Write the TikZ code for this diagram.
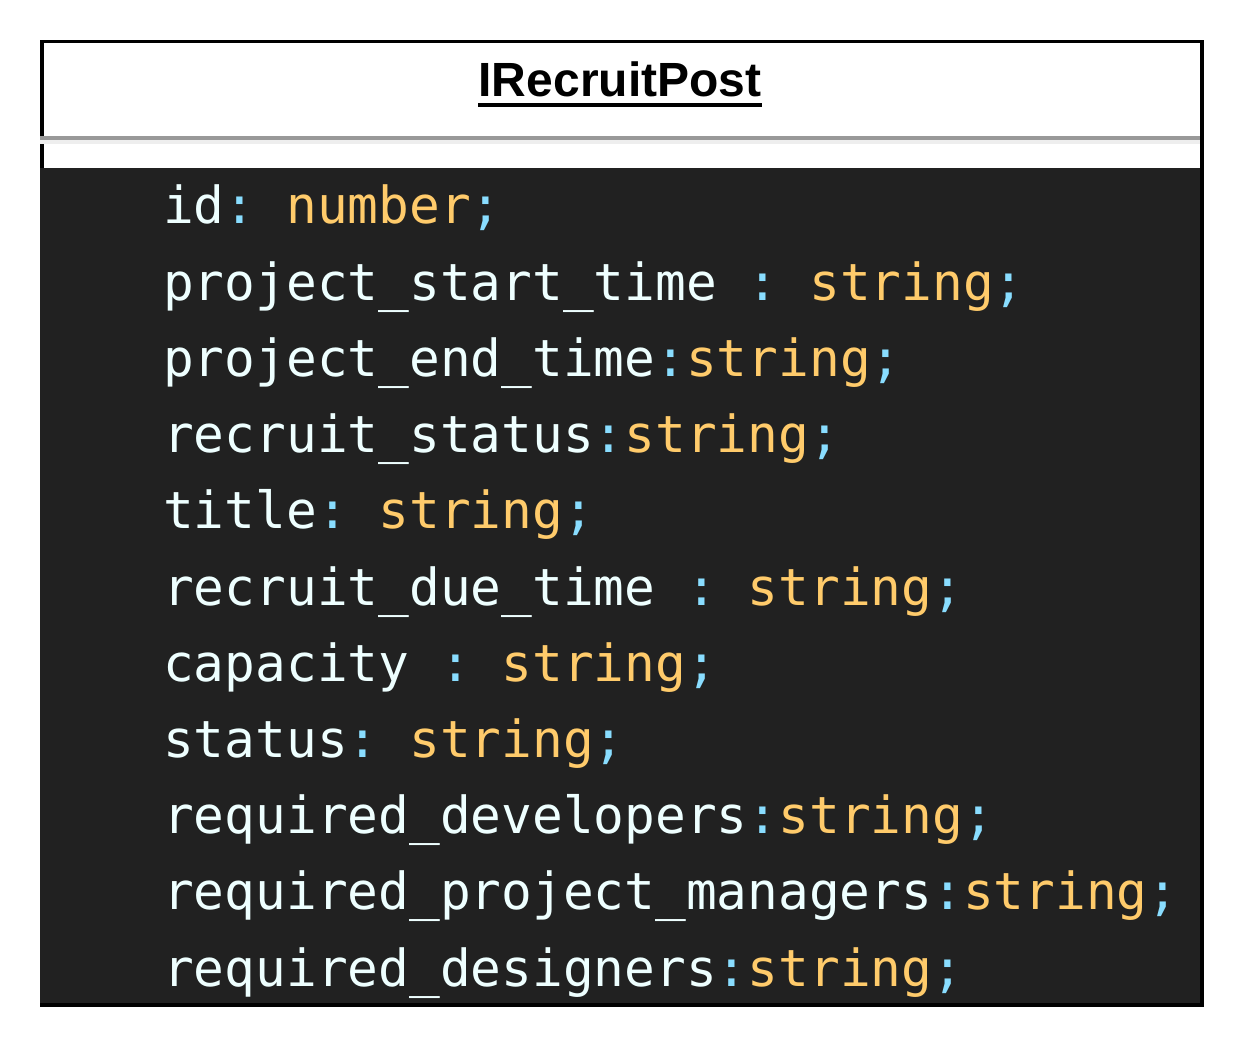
\documentclass[tikz,border=0pt]{standalone}
\usepackage{fontspec}
\setmonofont{DejaVu Sans Mono}
\newfontfamily\titlefont{Liberation Sans}
\definecolor{darkbg}{HTML}{212121}
\definecolor{idcol}{HTML}{EEFFFF}
\definecolor{punc}{HTML}{89DDFF}
\definecolor{tycol}{HTML}{FFCB6B}
\definecolor{sepgray}{HTML}{999999}
\definecolor{seplight}{HTML}{EEEEEE}
\newcommand\pu[1]{\textcolor{punc}{#1}}
\newcommand\ty[1]{\textcolor{tycol}{#1}}
\tikzset{
  codeline/.style={anchor=base west, inner sep=0pt, text=idcol,
    font=\ttfamily\fontsize{51.1}{60}\selectfont},
  titletext/.style={anchor=base, inner sep=0pt,
    font=\titlefont\bfseries\fontsize{48}{52}\selectfont}
}
\begin{document}
\begin{tikzpicture}[x=1pt,y=-1pt]
\useasboundingbox (0,0) rectangle (1244,1048);
% outer box
\draw[fill=white, line width=3.6pt] (41.8,41.6) rectangle (1202.2,1004.8);
% dark body
\fill[darkbg] (40,168) rectangle (1200.4,1003.2);
% separator
\fill[sepgray] (40,136) rectangle (1200.4,140);
\fill[seplight] (40,140) rectangle (1200.4,144);
% title
\node[titletext] (title) at (620,97) {IRecruitPost};
\draw[line width=4pt] ([yshift=-8.5pt]title.base west) -- ([yshift=-8.5pt]title.base east);
% code lines
\node[codeline] (l1)  at (163,224.0) {id\pu{:} \ty{number}\pu{;}};
\node[codeline] (l2)  at (163,300.2) {project\_start\_time \pu{:} \ty{string}\pu{;}};
\node[codeline] (l3)  at (163,376.4) {project\_end\_time\pu{:}\ty{string}\pu{;}};
\node[codeline] (l4)  at (163,452.6) {recruit\_status\pu{:}\ty{string}\pu{;}};
\node[codeline] (l5)  at (163,528.8) {title\pu{:} \ty{string}\pu{;}};
\node[codeline] (l6)  at (163,605.0) {recruit\_due\_time \pu{:} \ty{string}\pu{;}};
\node[codeline] (l7)  at (163,681.2) {capacity \pu{:} \ty{string}\pu{;}};
\node[codeline] (l8)  at (163,757.4) {status\pu{:} \ty{string}\pu{;}};
\node[codeline] (l9)  at (163,833.6) {required\_developers\pu{:}\ty{string}\pu{;}};
\node[codeline] (l10) at (163,909.8) {required\_project\_managers\pu{:}\ty{string}\pu{;}};
\node[codeline] (l11) at (163,986.0) {required\_designers\pu{:}\ty{string}\pu{;}};
\end{tikzpicture}
\end{document}
